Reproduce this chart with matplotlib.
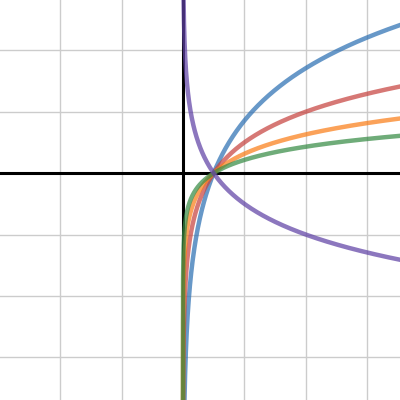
import numpy as np
import matplotlib
matplotlib.use("Agg")
import matplotlib.pyplot as plt

bases = [1.5, 2, 3, 5, 0.5]
colors = ["#2d70b3", "#c74440", "#fa7e19", "#388c46", "#6042a6"]

fig = plt.figure(figsize=(4, 4), dpi=100)
ax = fig.add_axes([0, 0, 1, 1])
ax.set_xlim(-5.96, 7.07)
ax.set_ylim(-7.39, 5.64)
for g in np.arange(-6, 8, 2):
    ax.axvline(g, color="#cccccc", lw=1, zorder=0)
    ax.axhline(g, color="#cccccc", lw=1, zorder=0)
ax.axhline(0, color="black", lw=2.2, zorder=1)
ax.axvline(0, color="black", lw=2.2, zorder=1)
x = np.concatenate([np.geomspace(1e-6, 0.5, 400), np.linspace(0.5, 7.2, 400)])
for b, c in zip(bases, colors):
    ax.plot(x, np.log(x) / np.log(b), color=c, lw=3.2, alpha=0.72, zorder=2)
ax.axis("off")
fig.savefig("out.png", dpi=100)
